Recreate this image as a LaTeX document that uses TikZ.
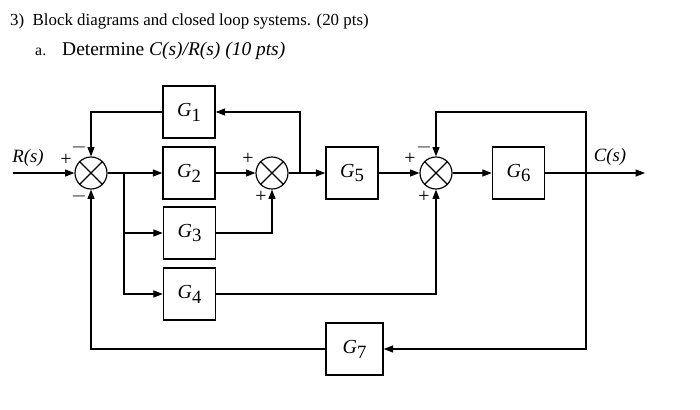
\documentclass[tikz,border=0pt]{standalone}
\usepackage{fontspec}
\setmainfont{Liberation Serif}
\usetikzlibrary{arrows.meta,calc}
\newcommand{\gblk}[1]{\textit{G}\kern0.01em\raisebox{-0.25em}{\fontsize{16}{16}\selectfont #1}}
\begin{document}
\begin{tikzpicture}[x=0.03cm,y=-0.03cm,
  blk/.style={draw,line width=1.3pt,minimum width=1.56cm,minimum height=1.56cm,inner sep=0pt,font=\fontsize{17}{17}\selectfont},
  sumj/.style={draw,circle,line width=1pt,minimum size=0.96cm,inner sep=0pt},
  conn/.style={line width=0.9pt},
  arr/.style={conn,-{Triangle[length=8pt,width=6pt]}},
  sgn/.style={font=\fontsize{17}{17}\selectfont,inner sep=0pt},
  lbl/.style={font=\fontsize{16}{16}\selectfont\itshape,inner sep=0pt}]
\useasboundingbox (0,0) rectangle (700,409);
% title
\node[anchor=base west,inner sep=0pt,font=\fontsize{14.4}{16}\selectfont] (title) at (10,25) {3)\ \ Block diagrams and closed loop systems. (20 pts)};
\node[anchor=base west,inner sep=0pt,font=\fontsize{13.5}{15}\selectfont] (sub) at (35,55) {a.};
\node[anchor=base west,inner sep=0pt,font=\fontsize{16.6}{18}\selectfont] (subq) at (62,55) {Determine \textit{C(s)/R(s) (10 pts)}};
% summing junctions
\node[sumj] (s1) at (91,173) {};
\node[sumj] (s2) at (272,173) {};
\node[sumj] (s3) at (436,173) {};
\foreach \s in {s1,s2,s3}{
  \draw[line width=1pt] (\s.45) -- (\s.225) (\s.135) -- (\s.315);
}
% blocks
\node[blk] (G1) at (189,112) {\gblk{1}};
\node[blk] (G2) at (189,173) {\gblk{2}};
\node[blk] (G3) at (189.5,233) {\gblk{3}};
\node[blk] (G4) at (189.5,294) {\gblk{4}};
\node[blk] (G5) at (352,173) {\gblk{5}};
\node[blk] (G6) at (518.5,173) {\gblk{6}};
\node[blk,minimum width=1.71cm] (G7) at (354.5,349) {\gblk{7}};
% coordinates
\coordinate (in) at (13,173);
\coordinate (out) at (645,173);
\coordinate (b1) at (124,173);
\coordinate (b2) at (300,173);
\coordinate (b3) at (586,173);
\coordinate (t3) at (586,112);
% connectors
\draw[arr] (in) -- (s1.west);
\draw[arr] (s1.east) -- (G2.west);
\draw[arr] (b1) |- (G3.west);
\draw[arr] (b1) |- (G4.west);
\draw[arr] (G2.east) -- (s2.west);
\draw[arr] (G3.east) -| (s2.south);
\draw[arr] (s2.east) -- (G5.west);
\draw[arr] (b2) |- (G1.east);
\draw[arr] (G1.west) -| (s1.north);
\draw[arr] (G5.east) -- (s3.west);
\draw[arr] (G4.east) -| (s3.south);
\draw[arr] (s3.east) -- (G6.west);
\draw[arr] (G6.east) -- (out);
\draw[arr] (b3) -- (t3) -| (s3.north);
\draw[arr] (b3) |- (G7.east);
\draw[arr] (G7.west) -| (s1.south);
% signs
\node[sgn] (p1) at (66,160) {+};
\node[sgn] (m1) at (79,147) {$-$};
\node[sgn] (m2) at (79,196) {$-$};
\node[sgn] (p2) at (248,159) {+};
\node[sgn] (p3) at (261,197) {+};
\node[sgn] (p4) at (410,159) {+};
\node[sgn] (m3) at (424,147) {$-$};
\node[sgn] (p5) at (424,197) {+};
% labels
\node[lbl] (R) at (28,158) {R(s)};
\node[lbl] (C) at (610,157) {C(s)};
\end{tikzpicture}
\end{document}
